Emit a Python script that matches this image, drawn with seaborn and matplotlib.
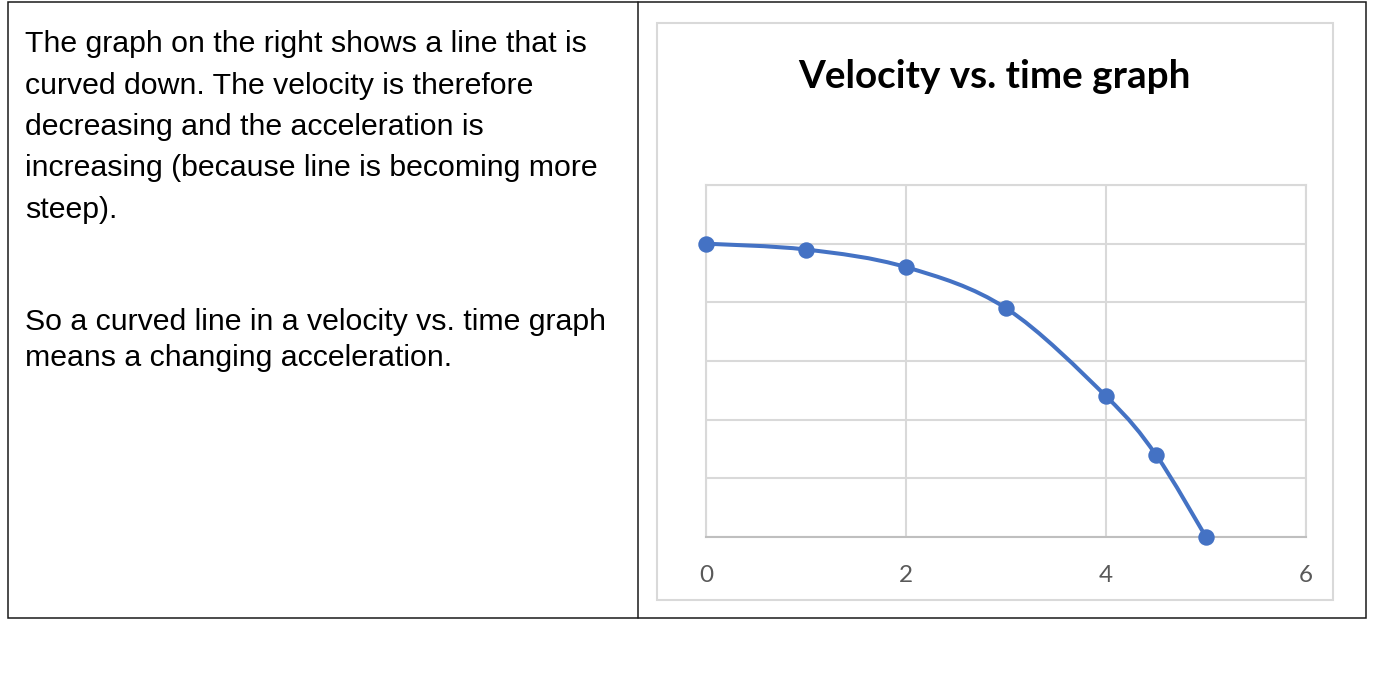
import numpy as np
import pandas as pd
import matplotlib
matplotlib.use("Agg")
import matplotlib.pyplot as plt
from matplotlib.path import Path
from matplotlib.patches import PathPatch, Rectangle
from matplotlib.lines import Line2D
import seaborn as sns

# ---- data ----
time_s = [0, 1, 2, 3, 4, 4.5, 5]
velocity = [10, 9.8, 9.2, 7.8, 4.8, 2.8, 0]
x_ticks = [0, 2, 4, 6]
y_ticks = [0, 2, 4, 6, 8, 10, 12]
title = "Velocity vs. time graph"
para1 = ["The graph on the right shows a line that is",
         "curved down. The velocity is therefore",
         "decreasing and the acceleration is",
         "increasing (because line is becoming more",
         "steep)."]
para2 = ["So a curved line in a velocity vs. time graph",
         "means a changing acceleration."]

sns.set_theme(style="white")
plt.rcParams["font.family"] = ["Liberation Sans", "DejaVu Sans"]

W, H = 1394, 678
fig = plt.figure(figsize=(W / 100, H / 100), dpi=100)
fig.patch.set_facecolor("white")


def fx(x):
    return x / W


def fy(y):
    return 1 - y / H


# table borders
fig.add_artist(Rectangle((fx(8), fy(618)), fx(1366) - fx(8), fy(2) - fy(618),
                         transform=fig.transFigure, fill=False, edgecolor="#1a1a1a", lw=1.1))
fig.add_artist(Line2D([fx(638), fx(638)], [fy(2), fy(618)], transform=fig.transFigure,
                      color="#1a1a1a", lw=1.1))
# chart frame
fig.add_artist(Rectangle((fx(657), fy(600)), fx(1333) - fx(657), fy(23) - fy(600),
                         transform=fig.transFigure, fill=False, edgecolor="#d9d9d9", lw=1.5))

# left text
baselines1 = [52, 93.5, 135, 176.5, 218]
for s, b in zip(para1, baselines1):
    fig.text(fx(25), fy(b), s, fontsize=21.8, va="baseline", ha="left", color="black",
             family=["Liberation Sans", "DejaVu Sans"])
baselines2 = [330.5, 366]
for s, b in zip(para2, baselines2):
    fig.text(fx(25), fy(b), s, fontsize=21.8, va="baseline", ha="left", color="black",
             family=["Liberation Sans", "DejaVu Sans"])

# title
fig.text(fx(994), fy(88.5), title, fontsize=27.8, fontweight="bold", ha="center", va="baseline",
         color="black", family=["Lato", "DejaVu Sans"])

# chart axes
ax = fig.add_axes([fx(706), fy(537), fx(1306) - fx(706), fy(185) - fy(537)])
ax.set_xlim(0, 6)
ax.set_ylim(0, 12)
ax.set_xticks(x_ticks)
ax.set_yticks(y_ticks)
ax.set_yticklabels([])
ax.grid(True, color="#d9d9d9", lw=1.5)
ax.set_axisbelow(True)
for side in ["top", "left", "right"]:
    ax.spines[side].set_color("#d9d9d9")
    ax.spines[side].set_linewidth(1.5)
ax.spines["bottom"].set_color("#bfbfbf")
ax.spines["bottom"].set_linewidth(1.5)
ax.tick_params(axis="both", length=0)
ax.tick_params(axis="x", pad=20, labelsize=17.5, labelcolor="#595959")
for lab in ax.get_xticklabels():
    lab.set_family(["Lato", "DejaVu Sans"])

blue = "#4472C4"
pts = np.column_stack([time_s, velocity]).astype(float)
n = len(pts)
verts = [pts[0]]
codes = [Path.MOVETO]
for i in range(n - 1):
    p0 = pts[max(i - 1, 0)]
    p1 = pts[i]
    p2 = pts[i + 1]
    p3 = pts[min(i + 2, n - 1)]
    c1 = p1 + (p2 - p0) / 6.0
    c2 = p2 - (p3 - p1) / 6.0
    verts += [c1, c2, p2]
    codes += [Path.CURVE4] * 3
ax.add_patch(PathPatch(Path(verts, codes), fill=False, edgecolor=blue, lw=2.9,
                       clip_on=False, zorder=3, capstyle="round", joinstyle="round"))

df = pd.DataFrame({"time": time_s, "velocity": velocity})
sns.scatterplot(data=df, x="time", y="velocity", ax=ax, color=blue, s=140,
                linewidth=0, zorder=4, clip_on=False)
ax.set_xlabel("")
ax.set_ylabel("")

fig.savefig("out.png", dpi=100)
